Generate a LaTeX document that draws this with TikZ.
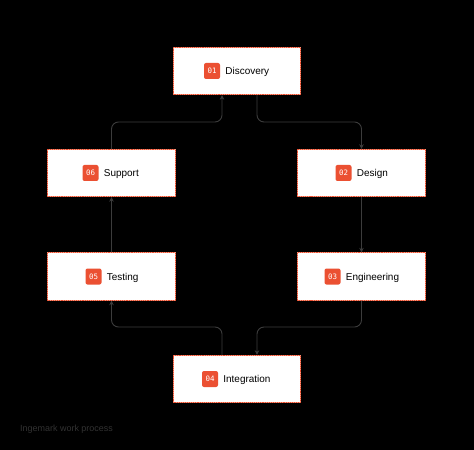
\documentclass[tikz,border=0pt]{standalone}
\usepackage{fontspec}
\setmainfont{Liberation Sans}
\newfontfamily\monofont{DejaVu Sans Mono}
\usetikzlibrary{arrows.meta}
\definecolor{accent}{RGB}{235,80,50}
\definecolor{accentlight}{RGB}{245,150,125}
\definecolor{edgegray}{RGB}{60,60,60}
\definecolor{capgray}{RGB}{50,50,50}
\tikzset{
  stepbox/.style={fill=white, minimum width=128bp, minimum height=48bp, inner sep=0pt},
  boxborder/.style={draw=accentlight, line width=1.1bp,
    postaction={draw=accent, densely dotted, line width=1.1bp}},
  badge/.style={fill=accent, rounded corners=2pt, minimum size=16bp, inner sep=0pt,
    text=white, font=\monofont\fontsize{7.5}{7.5}\selectfont},
  lbl/.style={font=\fontsize{10}{12}\selectfont, text=black, inner sep=0pt, anchor=base west},
  flow/.style={draw=edgegray, line width=0.9pt, rounded corners=7pt,
    -{Stealth[length=4.5pt,width=4.5pt]}},
}
\newcommand{\stepnode}[5]{%
  \node[stepbox] (#1) at (#2) {};
  \draw[boxborder] ([shift={(0.6,0.6)}]#1.north west) rectangle ([shift={(-0.6,-0.6)}]#1.south east);
  \node[badge] (#1b) at ([xshift=#5bp]#1.center) {#3};
  \node[lbl] (#1t) at ([xshift=5bp,yshift=-3.6pt]#1b.east) {#4};
}
\begin{document}
\begin{tikzpicture}[x=1bp,y=-1bp]
\useasboundingbox[fill=black] (0,0) rectangle (474,450);
\stepnode{disc}{237,71}{01}{Discovery}{-25}
\stepnode{supp}{111.5,173}{06}{Support}{-21}
\stepnode{desi}{361.5,173}{02}{Design}{-18}
\stepnode{test}{111.5,276.5}{05}{Testing}{-18}
\stepnode{engi}{361.5,276.5}{03}{Engineering}{-29}
\stepnode{inte}{237,379}{04}{Integration}{-27}
\node[text=capgray, font=\fontsize{9}{11}\selectfont, anchor=west, inner sep=0pt] (cap) at (20,429) {Ingemark work process};
% connectors
\draw[flow] (supp.north) -- (111.5,122) -- (222,122) -- (disc.south -| 222,0);
\draw[flow] (disc.south -| 257,0) -- (257,122) -- (361.5,122) -- (desi.north);
\draw[flow] (desi.south) -- (engi.north);
\draw[flow] (engi.south) -- (361.5,327) -- (257,327) -- (inte.north -| 257,0);
\draw[flow] (inte.north -| 222,0) -- (222,327) -- (111.5,327) -- (test.south);
\draw[flow] (test.north) -- (supp.south);
\end{tikzpicture}
\end{document}
